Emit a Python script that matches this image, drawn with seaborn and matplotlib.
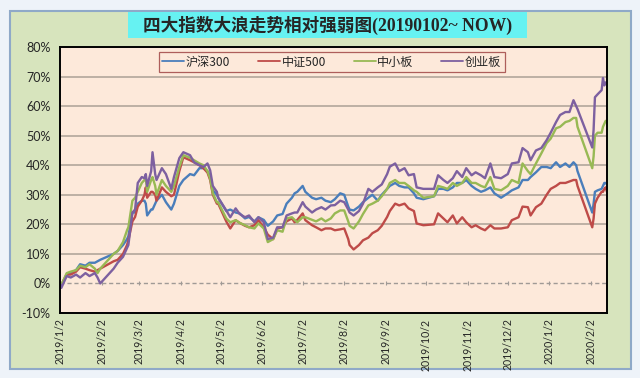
import pandas as pd
import seaborn as sns
import matplotlib.pyplot as plt
from matplotlib.patches import Rectangle

# trading dates sampled from the chart (calendar x axis)
dates = [
    "2019-01-02", "2019-01-03", "2019-01-07", "2019-01-10", "2019-01-14", "2019-01-17",
    "2019-01-21", "2019-01-24", "2019-01-28", "2019-01-30", "2019-02-01", "2019-02-11",
    "2019-02-14", "2019-02-18", "2019-02-21", "2019-02-22", "2019-02-25", "2019-02-27",
    "2019-03-01", "2019-03-04", "2019-03-06", "2019-03-07", "2019-03-08", "2019-03-11",
    "2019-03-12", "2019-03-14", "2019-03-15", "2019-03-19", "2019-03-22", "2019-03-26",
    "2019-03-28", "2019-04-01", "2019-04-04", "2019-04-09", "2019-04-12", "2019-04-16",
    "2019-04-19", "2019-04-22", "2019-04-24", "2019-04-26", "2019-04-29", "2019-04-30",
    "2019-05-06", "2019-05-09", "2019-05-13", "2019-05-16", "2019-05-20", "2019-05-23",
    "2019-05-27", "2019-05-30", "2019-06-03", "2019-06-06", "2019-06-10", "2019-06-13",
    "2019-06-17", "2019-06-20", "2019-06-24", "2019-06-26", "2019-06-28", "2019-07-02",
    "2019-07-04", "2019-07-09", "2019-07-12", "2019-07-16", "2019-07-19", "2019-07-23",
    "2019-07-26", "2019-07-30", "2019-08-02", "2019-08-05", "2019-08-06", "2019-08-09",
    "2019-08-13", "2019-08-16", "2019-08-20", "2019-08-23", "2019-08-27", "2019-08-30",
    "2019-09-03", "2019-09-05", "2019-09-09", "2019-09-12", "2019-09-16", "2019-09-19",
    "2019-09-23", "2019-09-25", "2019-09-30", "2019-10-08", "2019-10-11", "2019-10-15",
    "2019-10-18", "2019-10-22", "2019-10-25", "2019-10-29", "2019-11-01", "2019-11-05",
    "2019-11-08", "2019-11-12", "2019-11-15", "2019-11-19", "2019-11-22", "2019-11-27",
    "2019-12-02", "2019-12-05", "2019-12-10", "2019-12-13", "2019-12-17", "2019-12-19",
    "2019-12-23", "2019-12-27", "2019-12-31", "2020-01-03", "2020-01-07", "2020-01-10",
    "2020-01-14", "2020-01-17", "2020-01-20", "2020-01-22", "2020-01-23", "2020-02-03",
    "2020-02-04", "2020-02-05", "2020-02-07", "2020-02-10", "2020-02-11", "2020-02-12",
    "2020-02-13", "2020-02-14",
]

hs300 = [
    0, -0.5, 3, 3.5, 4.5, 6.5, 6, 7, 7, 7.5, 8, 10,
    11, 13, 15, 16, 24, 24, 27, 28, 28, 27, 23, 25,
    25, 27, 28, 30, 27.5, 25, 27, 33, 35, 37, 36.6, 39,
    39, 38, 36, 31.5, 30, 29, 24.5, 25, 24, 23.7, 22, 22.5,
    21, 22.4, 21.5, 19.5, 21, 23, 23.5, 27, 29, 30.5, 31, 33,
    31, 29, 28.5, 29, 28, 27.5, 28.5, 30.5, 30, 26, 25, 24.7,
    26, 27.5, 29, 30, 28, 30, 32, 33, 34, 33, 32.5, 32.5,
    30.5, 29, 28.5, 29.5, 32, 32, 31.5, 32.5, 34, 34, 35, 33,
    32, 31, 31.5, 32.5, 30.5, 29, 30.5, 31.5, 32.5, 35, 35, 36,
    37.6, 39.4, 39.4, 39, 41, 39.4, 40.6, 39.4, 41, 40, 38, 24,
    27, 31, 31.5, 32, 33, 34, 34, 33.5,
]

zz500 = [
    0, -0.5, 3, 3, 4, 5.5, 5, 4.5, 4, 4.5, 5, 7.5,
    8, 10, 13, 14.6, 21, 22.5, 26, 28, 30, 32.5, 29, 31,
    31, 30, 28, 32.5, 31, 29.5, 30, 38, 42.7, 41.7, 41, 40,
    39, 37.5, 35, 30, 27, 27, 21, 18.6, 21.4, 20.5, 19.5, 19,
    19.7, 21.4, 19, 16.5, 15, 18.6, 19, 21, 22, 20.7, 21.5, 23.7,
    21.4, 19.7, 19, 18, 18.6, 18.6, 18, 18.3, 18.6, 15, 13, 11.5,
    13, 14.6, 15.5, 17, 18, 19.5, 22.5, 24.5, 27, 26.4, 27, 25.4,
    24.5, 20.3, 19.7, 20, 23.7, 22, 20.7, 23, 20.3, 22.4, 20.7, 19,
    19.7, 18.6, 18, 19.7, 18.6, 18.6, 19, 21.4, 22.4, 26, 25.8, 23,
    25.8, 27, 30, 32, 33, 34, 34, 34.5, 35, 35, 33, 19,
    22, 27, 29, 31, 31, 32, 32.5, 31,
]

zxb = [
    0, -0.5, 3.5, 4, 4.5, 6, 5.5, 6.5, 5, 3.5, 5, 10,
    11, 14, 18, 19, 28, 29, 31, 34, 35, 35.6, 31, 35,
    36, 33, 30, 35, 33, 31, 33, 39.4, 43.4, 42.5, 41.7, 40.6,
    40, 38, 35.5, 30.5, 27.5, 27.5, 22, 20.7, 21.4, 20.5, 19.7, 19,
    18.6, 20.3, 18.6, 14, 15, 18, 17.5, 22, 22.4, 21.5, 20.7, 22.4,
    22.4, 21.5, 21, 22, 21, 22, 23.7, 24.7, 24.7, 21, 19.5, 18.6,
    21, 23.5, 26.4, 27, 28, 29.5, 32, 34, 35, 34, 34, 33,
    31.5, 31, 29, 29.5, 33, 32.5, 32, 34, 33, 34, 36, 34,
    34, 33, 32.5, 36, 32, 31.5, 33, 35, 34, 40.6, 38, 37,
    40.6, 44, 47.5, 49, 52.5, 53, 54.6, 55, 56, 56, 53, 39,
    43, 50, 51, 51, 53, 54, 55, 54.5,
]

cyb = [
    0, -1.5, 2.5, 2, 3, 2, 3.5, 2.5, 3.5, 2, 0, 5,
    7, 9, 12, 13, 24, 25, 34, 36, 35.6, 37, 33, 38,
    44.4, 37, 35, 39, 37, 32, 36, 42.4, 44.4, 43.4, 41, 40,
    39.4, 40.6, 38.3, 33, 31, 29, 24.7, 22.4, 25.4, 23.5, 22.4, 23,
    20.7, 22.4, 20.7, 15, 15.5, 19, 19, 23, 23.7, 24, 24, 27.5,
    26, 24, 25, 25.8, 25, 26.4, 26.5, 28, 27.5, 25, 24, 23,
    24.5, 27, 32, 31, 32.5, 33.5, 37, 39.5, 40.6, 38, 39, 36.6,
    37, 32.5, 32, 32, 36.6, 35, 34, 35.6, 38, 36, 39, 36.6,
    37.6, 36.6, 35.6, 40.6, 36, 35.6, 37, 40.6, 41, 45.8, 44.4, 41.7,
    45, 45.8, 48.5, 51, 54.6, 57, 58, 58, 62, 60, 59, 46,
    52, 63, 64, 65.4, 69.5, 67, 68, 68,
]

series_names = ["沪深300", "中证500", "中小板", "创业板"]
colors = ["#4a7ebb", "#be4b48", "#98b954", "#7d60a0"]

tick_dates = [
    "2019-01-02", "2019-02-02", "2019-03-02", "2019-04-02", "2019-05-02", "2019-06-02",
    "2019-07-02", "2019-08-02", "2019-09-02", "2019-10-02", "2019-11-02", "2019-12-02",
    "2020-01-02", "2020-02-02",
]
tick_labels = [
    "2019/1/2", "2019/2/2", "2019/3/2", "2019/4/2", "2019/5/2", "2019/6/2",
    "2019/7/2", "2019/8/2", "2019/9/2", "2019/10/2", "2019/11/2", "2019/12/2",
    "2020/1/2", "2020/2/2",
]
y_ticks = [-10, 0, 10, 20, 30, 40, 50, 60, 70, 80]

title = "四大指数大浪走势相对强弱图(20190102~ NOW)"

df = pd.DataFrame({
    "date": pd.to_datetime(dates),
    "沪深300": hs300,
    "中证500": zz500,
    "中小板": zxb,
    "创业板": cyb,
})
df_long = df.melt(id_vars="date", var_name="指数", value_name="pct")

sns.set_style("white")
plt.rcParams["font.family"] = ["Lato", "Noto Sans CJK SC", "DejaVu Sans"]

fig = plt.figure(figsize=(6.4, 3.78), dpi=100)
fig.patch.set_facecolor("#eef3f9")
fig.patches.append(Rectangle((10 / 640, 9 / 378), 621 / 640, 358 / 378,
                             transform=fig.transFigure, facecolor="#d7e4bd",
                             edgecolor="#8fa9c8", lw=1.5, zorder=-1))
# title box
fig.patches.append(Rectangle((128 / 640, 1 - 38 / 378), 399 / 640, 26 / 378,
                             transform=fig.transFigure, facecolor="#66f2f2",
                             edgecolor="none", zorder=0))
fig.text(328 / 640, 1 - 25 / 378, title, ha="center", va="center",
         fontsize=12.7, fontweight="bold",
         family=["Liberation Serif", "Noto Sans CJK SC"])

ax = fig.add_axes([60 / 640, 1 - 313 / 378, 547 / 640, 266 / 378])
ax.set_facecolor("#fde9da")

sns.lineplot(data=df_long, x="date", y="pct", hue="指数", hue_order=series_names,
             palette=colors, linewidth=1.7, ax=ax, legend=False)

ax.set_xlim(pd.Timestamp("2019-01-02"), pd.Timestamp("2020-02-14"))
ax.set_ylim(-10, 80)
ax.set_yticks(y_ticks)
ax.set_yticklabels([f"{v}%" for v in y_ticks])
ax.set_xticks(pd.to_datetime(tick_dates))
ax.set_xticklabels(tick_labels, rotation=90)
ax.set_xlabel("")
ax.set_ylabel("")

ax.yaxis.grid(True, color="#b8aba0", lw=1.3)
ax.set_axisbelow(True)
for v, gl in zip(y_ticks, ax.get_ygridlines()):
    if v == 0:
        gl.set_visible(False)
ax.axhline(0, color="#a09a96", lw=1.0, ls=(0, (3, 2)), zorder=1)

for s in ax.spines.values():
    s.set_color("black")
    s.set_linewidth(1.4)

ax.tick_params(axis="y", length=4, color="#555555", labelsize=9, pad=3)
ax.tick_params(axis="x", length=0, labelsize=7.6, pad=4)

# tick marks sit on the 0% axis line
sec = ax.secondary_xaxis(1 / 9)
sec.set_xticks(pd.to_datetime(tick_dates))
sec.set_xticklabels([])
sec.tick_params(length=3, color="#a09a96", direction="inout")
for s in sec.spines.values():
    s.set_visible(False)

handles = [plt.Line2D([], [], color=c, lw=1.3) for c in colors]
leg = ax.legend(handles, series_names, loc="upper center", bbox_to_anchor=(0.497, 0.99),
                ncol=4, frameon=True, fancybox=False,
                handlelength=1.8, handletextpad=0.15, columnspacing=2.3,
                borderpad=0.3, borderaxespad=0.2,
                prop={"family": ["Noto Sans CJK SC"], "size": 8.7})
leg.get_frame().set_edgecolor("#9a3b3b")
leg.get_frame().set_facecolor("#fde9da")
leg.get_frame().set_linewidth(0.9)

fig.savefig("out.png", dpi=100, facecolor=fig.get_facecolor())
